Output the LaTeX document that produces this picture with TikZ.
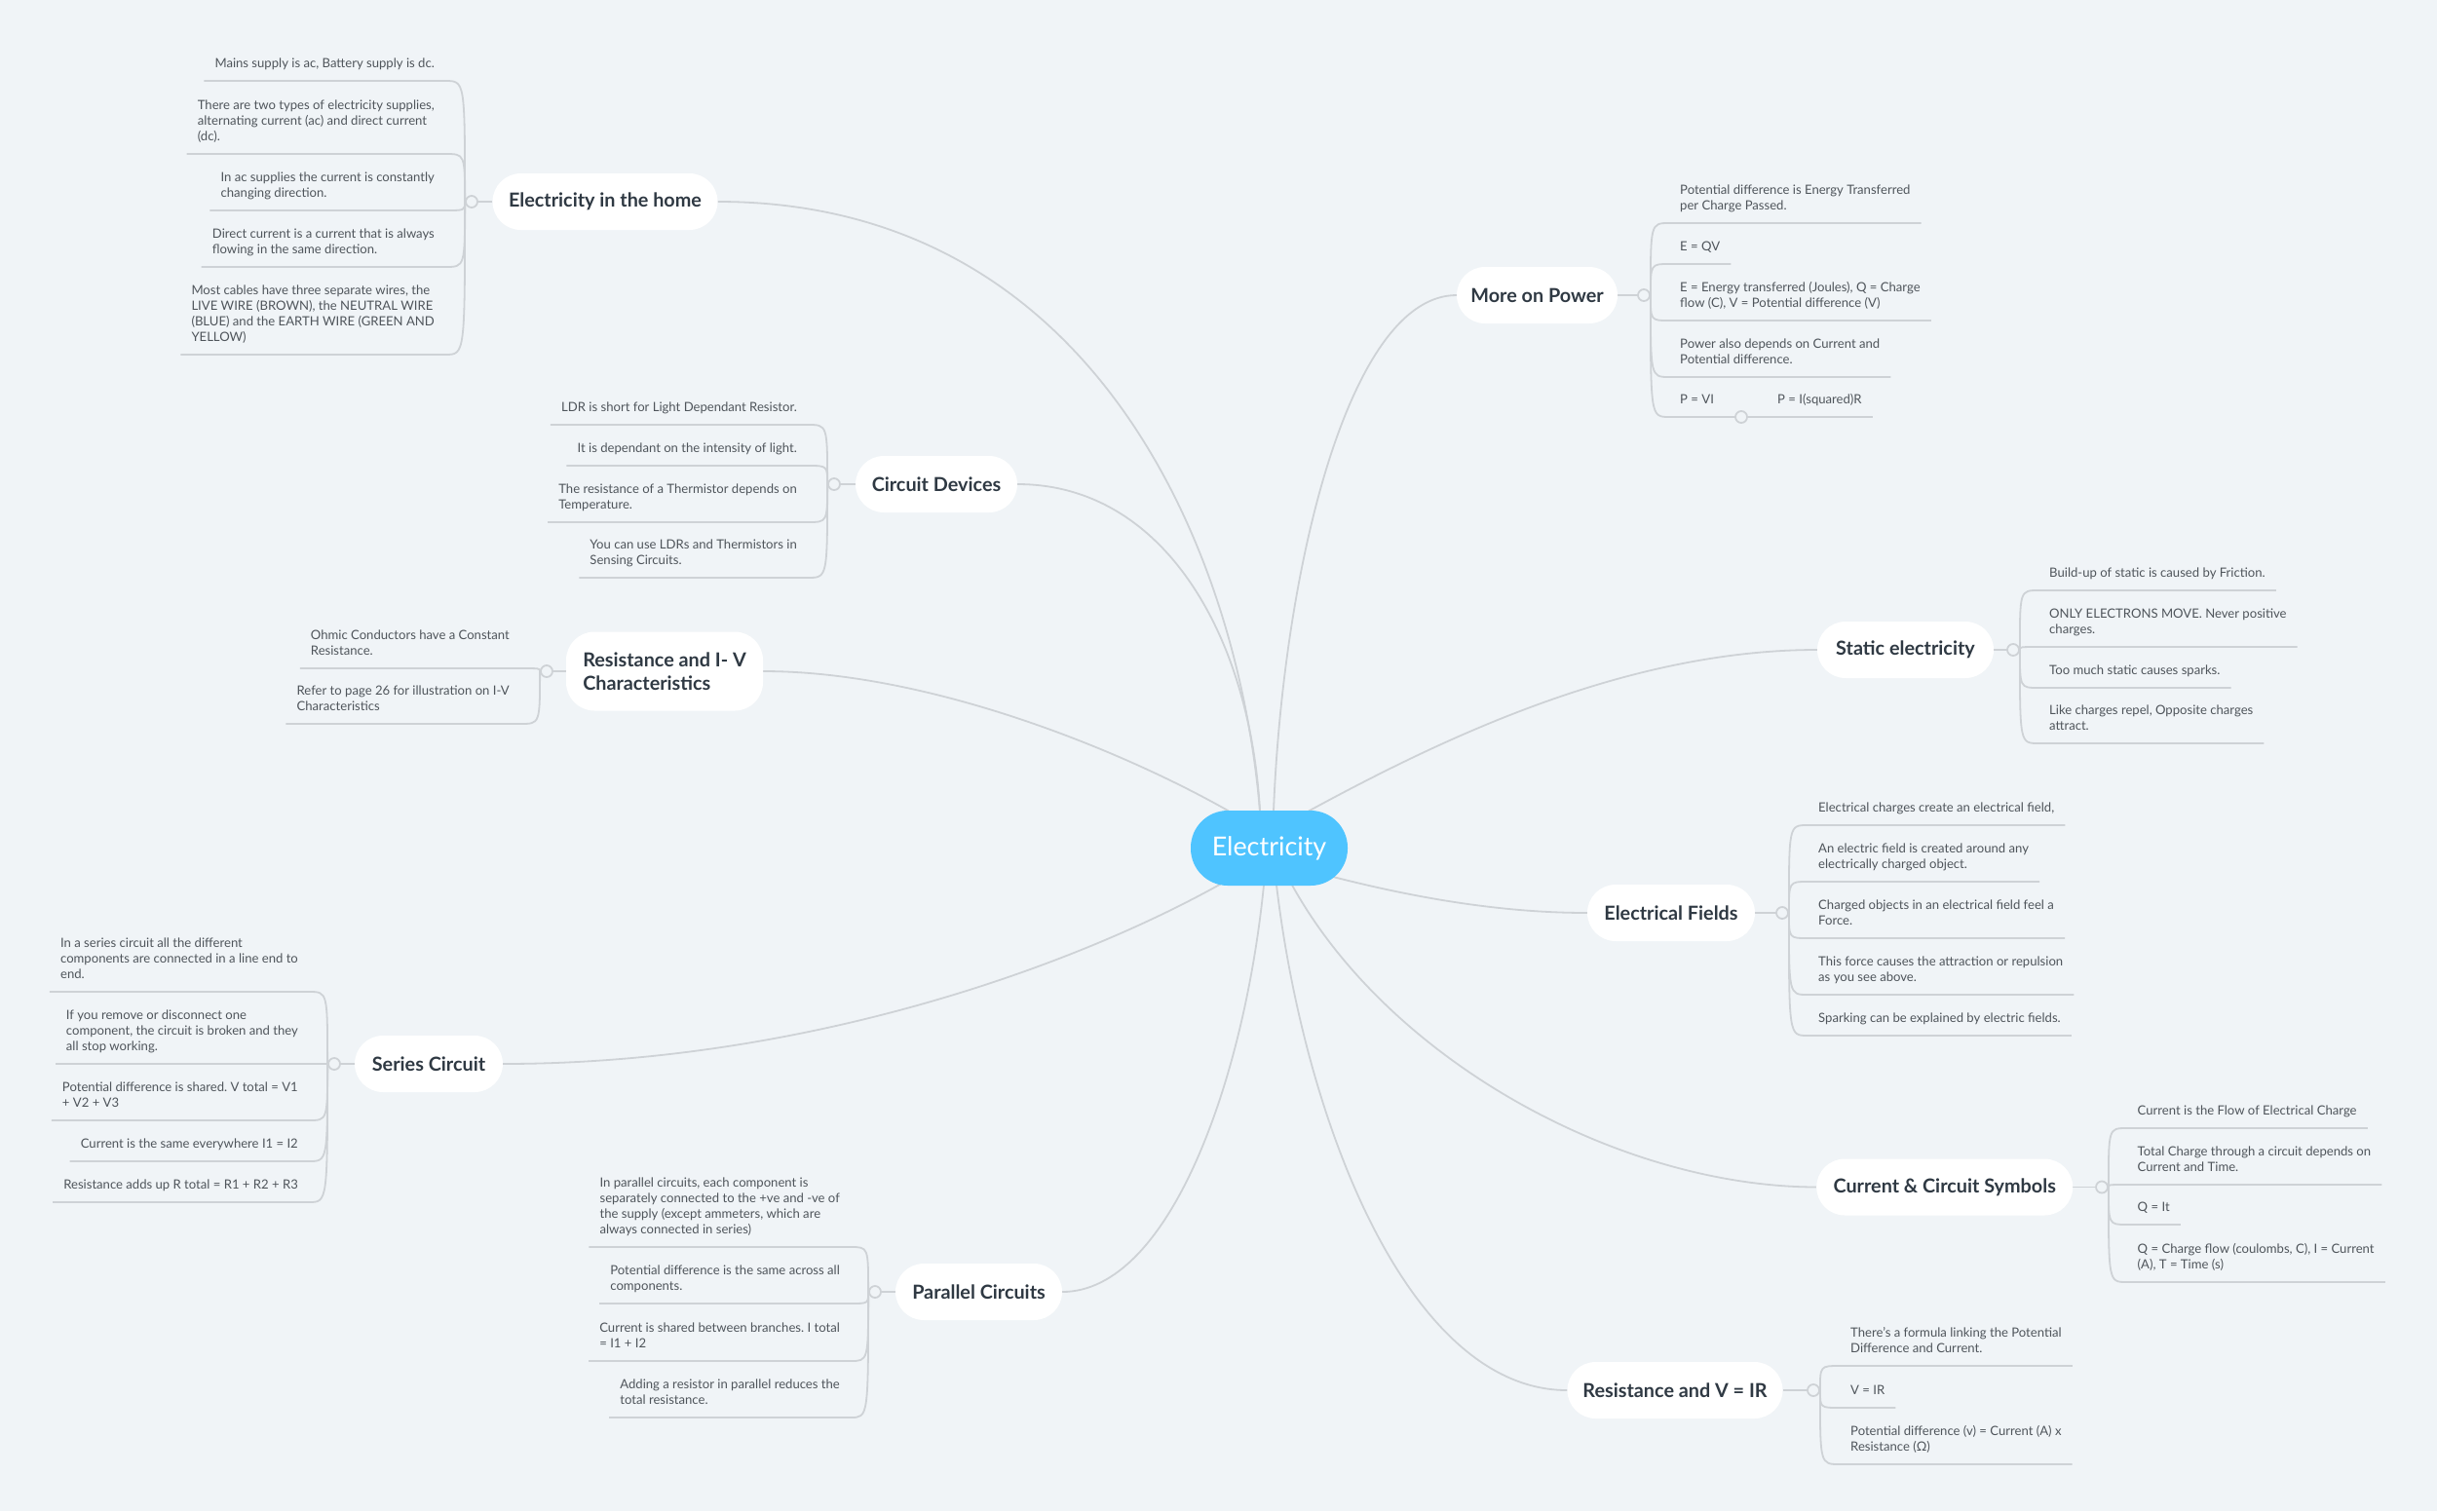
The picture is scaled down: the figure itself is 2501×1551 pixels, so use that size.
\documentclass[tikz,border=0pt]{standalone}
\usepackage{fontspec}
\setmainfont{Lato}
\frenchspacing
\usetikzlibrary{calc}
\pgfdeclarelayer{back}
\pgfdeclarelayer{lines}
\pgfsetlayers{back,lines,main}
\definecolor{bgc}{HTML}{F0F4F7}
\definecolor{lnc}{HTML}{CED2D6}
\definecolor{tpc}{HTML}{2F3943}
\definecolor{lfc}{HTML}{4F555B}
\definecolor{rootc}{HTML}{4FC4FF}
\tikzset{
  mmlink/.style={draw=lnc, line width=1.8pt},
  rootnode/.style={fill=rootc, rounded corners=38pt, minimum width=161pt, minimum height=77pt, inner sep=0pt, text=white, font=\fontsize{26.9}{30}\selectfont},
  topicn/.style={fill=white, rounded corners=29pt, minimum height=58pt, inner sep=0pt, text=tpc, font=\fontsize{19.8}{24.5}\selectfont\bfseries},
  hubc/.style={circle, draw=lnc, line width=1.8pt, fill=bgc, minimum size=12pt, inner sep=0pt},
  leafbase/.style={align=left, text=lfc, font=\fontsize{13.1}{15.8}\selectfont\frenchspacing, inner xsep=11pt, inner ysep=9pt, execute at end node=\strut},
  leafL/.style={leafbase, anchor=south east},
  leafR/.style={leafbase, anchor=south west},
}
\begin{document}
\begin{tikzpicture}[x=1pt,y=-1pt]
\begin{pgfonlayer}{back}
\fill[bgc] (0,0) rectangle (2501,1551);
\end{pgfonlayer}
\useasboundingbox (0,0) rectangle (2501,1551);

% root
\node[rootnode] (root) at (1302.5,870.5) {Electricity};

% topics
\node[topicn, minimum width=231pt] (home) at (621,207) {Electricity in the home};
\node[topicn, minimum width=166pt] (cd) at (961,497) {Circuit Devices};
\node[topicn, minimum width=202pt, minimum height=81pt, align=left] (riv) at (682,689) {Resistance and I- V\\Characteristics};
\node[topicn, minimum width=152pt] (series) at (440,1092) {Series Circuit};
\node[topicn, minimum width=171pt] (par) at (1004.5,1326) {Parallel Circuits};
\node[topicn, minimum width=165pt] (mop) at (1577.5,303) {More on Power};
\node[topicn, minimum width=181pt] (static) at (1955.5,667) {Static electricity};
\node[topicn, minimum width=172pt] (ef) at (1715,937) {Electrical Fields};
\node[topicn, minimum width=263pt] (cur) at (1995.7,1218.5) {Current \& Circuit Symbols};
\node[topicn, minimum width=221pt] (vir) at (1719,1427) {Resistance and V = IR};

% hubs
\node[hubc] (hh) at (484,207) {};
\node[hubc] (ch) at (856,497) {};
\node[hubc] (rh) at (561,689) {};
\node[hubc] (sh) at (343,1092) {};
\node[hubc] (ph) at (898,1326) {};
\node[hubc] (mh) at (1687,303) {};
\node[hubc] (th) at (2066,667) {};
\node[hubc] (eh) at (1829,937) {};
\node[hubc] (uh) at (2157,1218.5) {};
\node[hubc] (vh) at (1861,1427) {};
\node[hubc] (mph) at (1787,428) {};

% leaves: Electricity in the home
\node[leafL] (h1) at (457,83) {Mains supply is ac, Battery supply is dc.};
\node[leafL] (h2) at (457,158) {There are two types of electricity supplies,\\alternating current (ac) and direct current\\(dc).};
\node[leafL] (h3) at (457,216) {In ac supplies the current is constantly\\changing direction.};
\node[leafL] (h4) at (457,274) {Direct current is a current that is always\\flowing in the same direction.};
\node[leafL] (h5) at (457,364) {Most cables have three separate wires, the\\LIVE WIRE (BROWN), the NEUTRAL WIRE\\(BLUE) and the EARTH WIRE (GREEN AND\\YELLOW)};

% Circuit Devices
\node[leafL] (c1) at (829,436) {LDR is short for Light Dependant Resistor.};
\node[leafL] (c2) at (829,478) {It is dependant on the intensity of light.};
\node[leafL] (c3) at (829,536) {The resistance of a Thermistor depends on\\Temperature.};
\node[leafL] (c4) at (829,593) {You can use LDRs and Thermistors in\\Sensing Circuits.};

% Resistance and I-V
\node[leafL] (r1) at (534,686) {Ohmic Conductors have a Constant\\Resistance.};
\node[leafL] (r2) at (534,743) {Refer to page 26 for illustration on I-V\\Characteristics};

% Series
\node[leafL] (s1) at (317,1018) {In a series circuit all the different\\components are connected in a line end to\\end.};
\node[leafL] (s2) at (317,1092) {If you remove or disconnect one\\component, the circuit is broken and they\\all stop working.};
\node[leafL] (s3) at (317,1150) {Potential difference is shared. V total = V1\\+ V2 + V3};
\node[leafL] (s4) at (317,1192) {Current is the same everywhere I1 = I2};
\node[leafL] (s5) at (317,1234) {Resistance adds up R total = R1 + R2 + R3};

% Parallel
\node[leafL] (p1) at (873,1280) {In parallel circuits, each component is\\separately connected to the +ve and -ve of\\the supply (except ammeters, which are\\always connected in series)};
\node[leafL] (p2) at (873,1338) {Potential difference is the same across all\\components.};
\node[leafL] (p3) at (873,1397) {Current is shared between branches. I total\\= I1 + I2};
\node[leafL] (p4) at (873,1455) {Adding a resistor in parallel reduces the\\total resistance.};

% More on Power
\node[leafR] (m1) at (1713,229) {Potential difference is Energy Transferred\\per Charge Passed.};
\node[leafR] (m2) at (1713,271) {E = QV};
\node[leafR] (m3) at (1713,329) {E = Energy transferred (Joules), Q = Charge\\flow (C), V = Potential difference (V)};
\node[leafR] (m4) at (1713,387) {Power also depends on Current and\\Potential difference.};
\node[leafR] (m5) at (1713,428) {P = VI};
\node[leafR] (m6) at (1813,428) {P = I(squared)R};

% Static
\node[leafR] (t1) at (2092,606) {Build-up of static is caused by Friction.};
\node[leafR] (t2) at (2092,664) {ONLY ELECTRONS MOVE. Never positive\\charges.};
\node[leafR] (t3) at (2092,706) {Too much static causes sparks.};
\node[leafR] (t4) at (2092,763) {Like charges repel, Opposite charges\\attract.};

% Electrical Fields
\node[leafR] (e1) at (1855,847) {Electrical charges create an electrical field,};
\node[leafR] (e2) at (1855,905) {An electric field is created around any\\electrically charged object.};
\node[leafR] (e3) at (1855,963) {Charged objects in an electrical field feel a\\Force.};
\node[leafR] (e4) at (1855,1021) {This force causes the attraction or repulsion\\as you see above.};
\node[leafR] (e5) at (1855,1063) {Sparking can be explained by electric fields.};

% Current
\node[leafR] (u1) at (2182.5,1158) {Current is the Flow of Electrical Charge};
\node[leafR] (u2) at (2182.5,1216) {Total Charge through a circuit depends on\\Current and Time.};
\node[leafR] (u3) at (2182.5,1257) {Q = It};
\node[leafR] (u4) at (2182.5,1316) {Q = Charge flow (coulombs, C), I = Current\\(A), T = Time (s)};

% V = IR
\node[leafR] (v1) at (1888,1402) {There's a formula linking the Potential\\Difference and Current.};
\node[leafR] (v2) at (1888,1445) {V = IR};
\node[leafR] (v3) at (1888,1503) {Potential difference (v) = Current (A) x\\Resistance (Ω)};

\begin{pgfonlayer}{lines}
% main connectors
\draw[mmlink] ($(root.center)+(-9.5,-38)$) .. controls (1270,560) and (1120,207) .. (home.east);
\draw[mmlink] ($(root.center)+(-9.5,-38)$) .. controls (1283,652) and (1194,497) .. (cd.east);
\draw[mmlink] ($(root.center)+(-41.5,-38)$) .. controls (1151,770) and (953,689) .. (riv.east);
\draw[mmlink] ($(root.center)+(-50,37)$) .. controls (1092,997) and (816,1092) .. (series.east);
\draw[mmlink] ($(root.center)+(-5.5,38)$) .. controls (1277,1109) and (1200,1326) .. (par.east);
\draw[mmlink] ($(root.center)+(4.5,-38)$) .. controls (1317,582) and (1385,303) .. (mop.west);
\draw[mmlink] ($(root.center)+(40.5,-38)$) .. controls (1473,762) and (1665,667) .. (static.west);
\draw[mmlink] ($(root.center)+(65.5,29.5)$) .. controls (1450,921) and (1539,937) .. (ef.west);
\draw[mmlink] ($(root.center)+(23.5,38)$) .. controls (1426,1089) and (1662,1218) .. (cur.west);
\draw[mmlink] ($(root.center)+(7.5,38)$) .. controls (1340,1159) and (1448,1427) .. (vir.west);

% topic to hub
\draw[mmlink] (home.west) -- (hh.center);
\draw[mmlink] (cd.west) -- (ch.center);
\draw[mmlink] (riv.west) -- (rh.center);
\draw[mmlink] (series.west) -- (sh.center);
\draw[mmlink] (par.west) -- (ph.center);
\draw[mmlink] (mop.east) -- (mh.center);
\draw[mmlink] (static.east) -- (th.center);
\draw[mmlink] (ef.east) -- (eh.center);
\draw[mmlink] (cur.east) -- (uh.center);
\draw[mmlink] (vir.east) -- (vh.center);

% left-side leaves
\foreach \hb/\lv in {hh/h1,hh/h2,hh/h3,hh/h4,hh/h5,ch/c1,ch/c2,ch/c3,ch/c4,rh/r1,rh/r2,sh/s1,sh/s2,sh/s3,sh/s4,sh/s5,ph/p1,ph/p2,ph/p3,ph/p4}
  \draw[mmlink] (\hb.west) .. controls (\hb.west |- \lv.south) .. (\lv.south east) -- (\lv.south west);
% right-side leaves
\foreach \hb/\lv in {mh/m1,mh/m2,mh/m3,mh/m4,mh/m5,th/t1,th/t2,th/t3,th/t4,eh/e1,eh/e2,eh/e3,eh/e4,eh/e5,uh/u1,uh/u2,uh/u3,uh/u4,vh/v1,vh/v2,vh/v3}
  \draw[mmlink] (\hb.east) .. controls (\hb.east |- \lv.south) .. (\lv.south west) -- (\lv.south east);
% sub-branch P = VI
\draw[mmlink] (m5.south east) -- (mph.center);
\draw[mmlink] (mph.center) -- (m6.south west) -- (m6.south east);
\end{pgfonlayer}
\end{tikzpicture}
\end{document}
